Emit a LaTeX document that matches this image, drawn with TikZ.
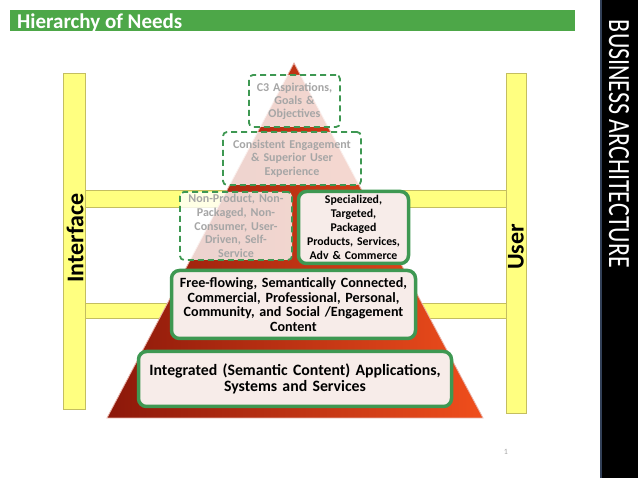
\documentclass[tikz,border=0pt]{standalone}
\usepackage{fontspec}
\setmainfont{Carlito}
\usetikzlibrary{shapes.geometric}
\definecolor{titlegreen}{RGB}{77,167,72}
\definecolor{boxgreen}{RGB}{62,152,82}
\definecolor{railyellow}{RGB}{255,255,128}
\definecolor{railedge}{RGB}{196,190,96}
\definecolor{boxfill}{RGB}{247,236,233}
\definecolor{softgray}{RGB}{166,166,166}
\definecolor{pyrleft}{RGB}{140,24,10}
\definecolor{pyrright}{RGB}{240,78,28}
\definecolor{pyredge}{RGB}{232,178,168}
\definecolor{baredge}{RGB}{50,64,88}
\tikzset{
  rail/.style={fill=railyellow, draw=railedge, line width=0.8pt},
  solidbox/.style={draw=boxgreen, line width=3.5pt, rounded corners=8pt, fill=boxfill,
    inner sep=0pt, align=center, font=\bfseries},
  dashbox/.style={draw=boxgreen, line width=1.8pt, dash pattern=on 6pt off 4pt,
    rounded corners=4pt, fill=white, fill opacity=0.8, text opacity=1,
    text=softgray, inner sep=0pt, align=center, font=\bfseries\fontsize{12}{13.5}\selectfont},
}
\begin{document}
\begin{tikzpicture}[x=1pt,y=-1pt]
\useasboundingbox (0,0) rectangle (638,478);
\fill[white] (0,0) rectangle (638,478);
% title bar
\fill[titlegreen] (10,10) rectangle (575,31);
\node[anchor=base west, inner sep=0pt, text=white, font=\bfseries\fontsize{21}{21}\selectfont] (title) at (17,29) {Hierarchy of Needs};
% right black bar
\fill[black, draw=baredge, line width=1.5pt] (600.75,-1) rectangle (639,479);
\node[rotate=-90, inner sep=0pt, text=white] (ba) at (619,144) {\resizebox{248pt}{20pt}{\fontsize{24}{24}\selectfont BUSINESS ARCHITECTURE}};
% ladder
\draw[rail] (85,190) rectangle (506,207);
\draw[rail] (85,303) rectangle (506,318);
\draw[rail] (63,73) rectangle (85,409);
\draw[rail] (506,73) rectangle (526,413);
\node[rotate=90, inner sep=0pt, font=\bfseries\fontsize{24}{24}\selectfont] (iface) at (75,238) {Interface};
\node[rotate=90, inner sep=0pt, font=\bfseries\fontsize{24}{24}\selectfont] (user) at (516,247) {User};
% pyramid
\coordinate (apex) at (294,63);
\coordinate (bl) at (107,418);
\coordinate (br) at (483,418);
\shade[left color=pyrleft, right color=pyrright, draw=pyredge, line width=0.8pt] (apex) -- (br) -- (bl) -- cycle;
% boxes
\node[dashbox, minimum width=91pt, minimum height=52pt, text width=88pt, font=\bfseries\fontsize{12}{12.8}\selectfont] (c3) at (294.5,101) {C3 Aspirations,\\Goals \&\\Objectives};
\node[dashbox, minimum width=138pt, minimum height=53pt, text width=134pt] (cons) at (292,158.5) {Consistent Engagement\\\& Superior User\\Experience};
\node[dashbox, minimum width=112pt, minimum height=68pt, text width=108pt, font=\bfseries\fontsize{12}{13.6}\selectfont] (nonp) at (236,226) {Non-Product, Non-\\Packaged, Non-\\Consumer, User-\\Driven, Self-\\Service};
\node[solidbox, minimum width=110pt, minimum height=72pt, text width=106pt, font=\bfseries\fontsize{11.8}{13.8}\selectfont] (spec) at (353.5,227.5) {Specialized,\\Targeted,\\Packaged\\Products, Services,\\Adv \& Commerce};
\node[solidbox, minimum width=244pt, minimum height=68pt, text width=240pt, font=\bfseries\fontsize{14.1}{14.6}\selectfont] (free) at (293.5,304.5) {Free-flowing, Semantically Connected,\\Commercial, Professional, Personal,\\Community, and Social /Engagement\\Content};
\node[solidbox, minimum width=313pt, minimum height=55pt, text width=310pt, font=\bfseries\fontsize{15.8}{16.5}\selectfont] (integ) at (295,379) {Integrated (Semantic Content) Applications,\\Systems and Services};
% page number
\node[text=softgray, inner sep=0pt, font=\fontsize{8}{8}\selectfont] (pg) at (506,452) {1};
\end{tikzpicture}
\end{document}
